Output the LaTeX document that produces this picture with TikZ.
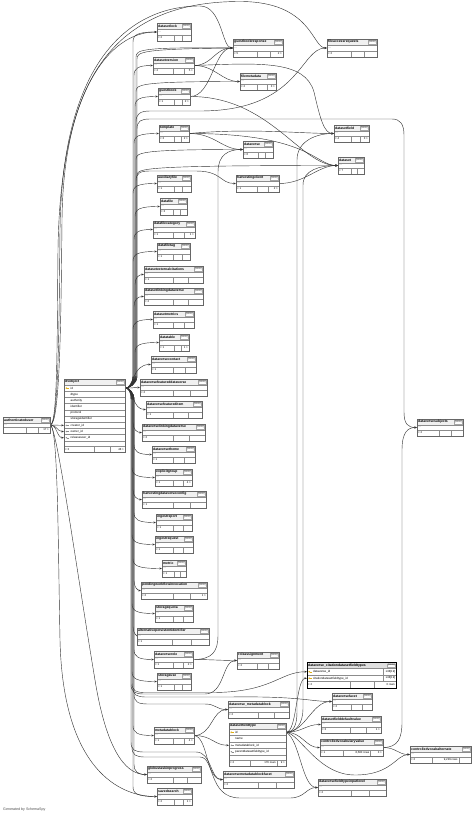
\documentclass[tikz,border=0pt]{standalone}
\usepackage{fontspec}
\setmainfont{Liberation Sans}
\usetikzlibrary{fit,arrows.meta}
\pgfdeclarelayer{bg}
\pgfsetlayers{bg,main}
\definecolor{keyc}{RGB}{225,175,20}
\tikzset{
 tblbg/.style={fill=white, inner sep=0pt, draw=none},
 hdrf/.style={fill=black!6},
 grid/.style={draw=black!45, line width=0.3pt},
 border/.style={draw=black!60, line width=0.5pt},
 lab/.style={font=\fontsize{3.4}{3.6}\selectfont\bfseries, inner sep=0pt, anchor=west},
 tag/.style={draw=black!35, fill=white, line width=0.2pt, text=black!70, font=\fontsize{2.5}{2.7}\selectfont, inner sep=0.45pt, anchor=east},
 ft/.style={font=\fontsize{2.8}{3}\selectfont, inner sep=0pt},
 rowt/.style={font=\fontsize{3}{3.2}\selectfont, inner sep=0pt, anchor=west},
 fk/.style={draw=black!80, line width=0.42pt, -{Stealth[length=2.4pt,width=2pt]}},
}
\def\tbfa{0.49}\def\tbfb{0.75}
\newcommand\tbgen[9]{%
 \node[tblbg, fit={(#2,#3) (#4,#5)}] (#1) {};
 \fill[hdrf] (#2,#3) rectangle (#4,{#3+6});
 \draw[grid] (#2,{#3+6}) -- (#4,{#3+6}) (#2,{#5-6}) -- (#4,{#5-6})
   ({#2+\tbfa*(#4-#2)},{#5-6}) -- ({#2+\tbfa*(#4-#2)},#5)
   ({#2+\tbfb*(#4-#2)},{#5-6}) -- ({#2+\tbfb*(#4-#2)},#5);
 \draw[border] (#2,#3) rectangle (#4,#5);
 \node[lab] (#1-l) at ({#2+1},{#3+3}) {#6};
 \node[tag] (#1-t) at ({#4-0.8},{#3+3}) {[table]};
 \node[ft, anchor=west] (#1-d) at ({#2+1.2},{(#3+#5)/2}) {...};
 \node[ft, anchor=west] (#1-a) at ({#2+1},{#5-3}) {#7};
 \node[ft, anchor=east] (#1-b) at ({#2+\tbfb*(#4-#2)-1},{#5-3}) {#8};
 \node[ft, anchor=east] (#1-c) at ({#4-1},{#5-3}) {#9};
}
\newcommand\mytb{\def\tbfa{0.49}\def\tbfb{0.75}\tbgen}
\newcommand\mytbr{\def\tbfa{0.37}\def\tbfb{0.80}\tbgen}
\newcommand\mypk[2]{\fill[keyc] (#1,#2) circle (0.85pt); \draw[keyc, line width=0.4pt] ({#1+0.5},#2) -- ({#1+2.2},#2) ({#1+1.8},#2) -- ({#1+1.8},{#2+0.9});}
\newcommand\myfk[2]{\fill[black!45] (#1,#2) circle (0.75pt); \draw[black!45, line width=0.35pt] ({#1+0.5},#2) -- ({#1+2.2},#2);}
\newcommand\trk[3]{%
 \pgfmathsetmacro\trksg{(#3<388)?1:-1}%
 \draw[fk] (dvr0.east) .. controls (129,388.1) and (#2,{388.1-4*\trksg}) .. (#2,{388.1-12*\trksg}) -- (#2,{#3+10*\trksg}) .. controls (#2,{#3+3*\trksg}) and ({#2+4},#3) .. (#1.west);
}
\newcommand\trkn[3]{\draw[fk] (dvr0.east) .. controls ({#2+1},388.1) and ({#2-1},#3) .. (#1.west);}
\begin{document}
\begin{tikzpicture}[x=1pt,y=-1pt]
\useasboundingbox (0,0) rectangle (474,816);
\begin{pgfonlayer}{bg}
\fill[white] (0,0) rectangle (474,816);
\end{pgfonlayer}

% ---------- tables ----------
\mytb{dsl}{157}{23}{191}{41}{datasetlock}{< 2}{}{}
\mytb{gbr}{233}{39}{283}{57}{guestbookresponse}{< 5}{}{2 >}
\mytb{far}{327}{39}{377}{57}{fileaccessrequests}{< 2}{}{}
\mytb{dsv}{153}{57}{194}{74}{datasetversion}{< 2}{}{5 >}
\mytb{fm}{240}{73}{276}{90}{filemetadata}{< 2}{}{3 >}
\mytb{gb}{158}{88}{190}{105}{guestbook}{< 1}{}{2 >}
\mytb{tpl}{159}{125}{189}{142}{template}{< 3}{}{2 >}
\mytb{dsf}{334}{125}{369}{142}{datasetfield}{< 4}{}{3 >}
\mytb{dv}{243}{141}{273}{158}{dataverse}{< 6}{}{}
\mytb{ds}{338}{157}{364}{174}{dataset}{< 7}{}{}
\mytb{hc}{236}{175}{279}{192}{harvestingclient}{< 1}{}{2 >}
\mytb{aux}{157}{175}{191}{192}{auxiliaryfile}{< 1}{}{}
\mytb{df}{160}{198}{187}{215}{datafile}{< 3}{}{}
\mytb{dfc}{153}{221}{195}{238}{datafilecategory}{< 1}{}{1 >}
\mytb{dftag}{157}{243}{190}{260}{datafiletag}{< 1}{}{}
\mytb{dec}{144}{266}{203}{283}{datasetexternalcitations}{< 1}{}{}
\mytb{dld}{144}{288}{203}{305}{datasetlinkingdataverse}{< 2}{}{}
\mytb{dsm}{153}{311}{194}{328}{datasetmetrics}{< 1}{}{}
\mytb{dtab}{159}{334}{189}{351}{datatable}{< 1}{}{1 >}
\mytb{dvc}{151}{356}{196}{373}{dataversecontact}{< 1}{}{}
\mytb{dvfd}{140}{379}{207}{396}{dataversefeatureddataverse}{< 2}{}{}
\mytb{dvfi}{146}{401}{202}{418}{dataversefeatureditem}{< 1}{}{}
\mytb{dvld}{142}{424}{205}{441}{dataverselinkingdataverse}{< 2}{}{}
\mytb{dvth}{152}{446}{195}{463}{dataversetheme}{< 1}{}{}
\mytb{eg}{155}{469}{192}{486}{explicitgroup}{< 1}{}{4 >}
\mytb{hdc}{142}{491}{206}{508}{harvestingdataverseconfig}{< 1}{}{}
\mytb{ir}{156}{514}{192}{531}{ingestreport}{< 1}{}{}
\mytb{irq}{155}{536}{193}{553}{ingestrequest}{< 1}{}{}
\mytb{met}{162}{560}{186}{577}{metric}{< 1}{}{}
\mytb{pwi}{141}{582}{207}{599}{pendingworkflowinvocation}{< 2}{}{1 >}
\mytb{sq}{155}{605}{193}{622}{storagequota}{< 1}{}{}
\mytb{api}{137}{628}{209}{645}{alternativepersistentidentifier}{< 1}{}{}
\mytb{dvr}{154}{651}{193}{668}{dataverserole}{< 1}{}{2 >}
\mytb{ra}{237}{652}{279}{669}{roleassignment}{< 2}{}{}
\mytb{su}{157}{673}{191}{690}{storageuse}{< 1}{}{}
\mytb{dvmb}{228}{701}{289}{718}{dataverse\_metadatablock}{< 2}{}{}
\mytb{mb}{154}{727}{194}{744}{metadatablock}{< 1}{}{4 >}
\mytb{gt}{147}{766}{201}{783}{globustaskinprogress}{< 2}{}{}
\mytb{dmbf}{223}{771}{294}{788}{dataversemetadatablockfacet}{< 2}{}{}
\mytb{ss}{157}{788}{192}{805}{savedsearch}{< 2}{}{1 >}
\mytb{dfacet}{332}{693}{372}{710}{dataversefacet}{< 2}{}{}
\mytb{dfdv}{321}{716}{381}{733}{datasetfielddefaultvalue}{< 3}{}{1 >}
\mytbr{cvv}{320}{739}{383}{756}{controlledvocabularyvalue}{< 1}{8,580 rows}{3 >}
\mytbr{cva}{410}{746}{471}{763}{controlledvocabalternate}{< 2}{9,229 rows}{}
\mytb{dftil}{318}{779}{386}{796}{dataversefieldtypeinputlevel}{< 2}{}{}
\mytb{dsub}{417}{419}{463}{436}{dataversesubjects}{< 2}{}{}
\mytb{au}{3}{417}{50}{433}{authenticateduser}{}{}{17 >}

% ---------- dvobject ----------
\node[tblbg, fit={(64,379) (125,452)}] (dvobject) {};
\fill[hdrf] (64,379) rectangle (125,385);
\draw[grid] (64,385) -- (125,385);
\node[lab] (dvobject-l) at (65,382) {dvobject};
\node[tag] (dvobject-t) at (124.2,382) {[table]};
\foreach \i/\nm in {0/id,1/dtype,2/authority,3/identifier,4/protocol,5/storageidentifier,6/creator\_id,7/owner\_id,8/releaseuser\_id}{
  \pgfmathsetmacro\ya{385+6.2*\i}
  \pgfmathsetmacro\yb{\ya+6.2}
  \pgfmathsetmacro\yc{\ya+3.1}
  \node[inner sep=0pt, fit={(64,\ya) (125,\yb)}] (dvr\i) {};
  \node[rowt] (dvt\i) at (70.5,\yc) {\nm};
  \draw[grid] (64,\yb) -- (125,\yb);
}
\mypk{66.3}{388.1}
\myfk{66.3}{425.3}
\myfk{66.3}{431.5}
\myfk{66.3}{437.7}
\draw[grid] (64,446.2) -- (125,446.2) (93.9,446.2) -- (93.9,452) (109.75,446.2) -- (109.75,452);
\node[ft, anchor=west] (dvobject-a) at (65,449.1) {< 3};
\node[ft, anchor=east] (dvobject-c) at (124,449.1) {48 >};
\draw[border] (64,379) rectangle (125,452);

% ---------- datasetfieldtype ----------
\node[tblbg, fit={(229,723) (286,766)}] (dftype) {};
\fill[hdrf] (229,723) rectangle (286,729);
\draw[grid] (229,729) -- (286,729);
\node[lab] (dftype-l) at (230,726) {datasetfieldtype};
\node[tag] (dftype-t) at (285.2,726) {[table]};
\foreach \i/\nm in {0/id,1/name,2/metadatablock\_id,3/parentdatasetfieldtype\_id}{
  \pgfmathsetmacro\ya{729+6.5*\i}
  \pgfmathsetmacro\yb{\ya+6.5}
  \pgfmathsetmacro\yc{\ya+3.25}
  \node[inner sep=0pt, fit={(229,\ya) (286,\yb)}] (ftr\i) {};
  \node[rowt] (ftt\i) at (235,\yc) {\nm};
  \draw[grid] (229,\yb) -- (286,\yb);
}
\mypk{231.3}{732.25}
\myfk{231.3}{745.25}
\myfk{231.3}{751.75}
\draw[grid] (229,760) -- (286,760) (250.1,760) -- (250.1,766) (276.9,760) -- (276.9,766);
\node[ft, anchor=west] (dftype-a) at (230,763) {< 2};
\node[ft, anchor=east] (dftype-b) at (275.9,763) {176 rows};
\node[ft, anchor=east] (dftype-c) at (285,763) {9 >};
\draw[border] (229,723) rectangle (286,766);

% ---------- dataverse_citationdatasetfieldtypes ----------
\node[tblbg, fit={(307,662) (396,688)}] (cit) {};
\fill[black!12] (307,662) rectangle (396,668.5);
\draw[grid] (307,668.5) -- (396,668.5);
\node[lab] (cit-l) at (308,665.25) {dataverse\_citationdatasetfieldtypes};
\node[tag] (cit-t) at (395.2,665.25) {[table]};
\node[inner sep=0pt, fit={(307,668.5) (396,675)}] (citr0) {};
\node[inner sep=0pt, fit={(307,675) (396,681.5)}] (citr1) {};
\node[rowt] (citt0) at (313,671.75) {dataverse\_id};
\node[rowt] (citt1) at (313,678.25) {citationdatasetfieldtype\_id};
\node[ft, anchor=east] (city0) at (395.3,671.75) {int8[19]};
\node[ft, anchor=east] (city1) at (395.3,678.25) {int8[19]};
\mypk{309.3}{671.75}
\mypk{309.3}{678.25}
\draw[grid] (307,675) -- (396,675) (307,681.5) -- (396,681.5) (383.5,668.5) -- (383.5,681.5)
  (350.6,681.5) -- (350.6,688) (373.75,681.5) -- (373.75,688);
\node[ft, anchor=west] (cit-a) at (308,684.75) {< 2};
\node[ft, anchor=east] (cit-c) at (395,684.75) {0 rows};
\draw[black, line width=0.9pt] (307,662) rectangle (396,688);

\node[font=\fontsize{3.6}{4}\selectfont, text=black!70, anchor=west, inner sep=0pt] (gen) at (3,810) {Generated by SchemaSpy};

% ---------- connectors ----------
\begin{pgfonlayer}{bg}
% dvobject trunk
\trk{dsl}{133}{32}
\trk{dsv}{134}{65.5}
\trk{gb}{135}{96.5}
\trk{tpl}{134}{133.5}
\trk{aux}{133}{183.5}
\trk{df}{135}{206.5}
\trk{dfc}{134}{229.5}
\trk{dftag}{133}{251.5}
\trk{dec}{135}{274.5}
\trk{dld}{134}{296.5}
\trk{dsm}{133}{319.5}
\trk{dtab}{135}{342.5}
\trkn{dvc}{133}{364.5}
\trkn{dvfd}{133}{387.5}
\trkn{dvfi}{133}{409.5}
\trk{dvld}{133}{432.5}
\trk{dvth}{134}{454.5}
\trk{eg}{132}{477.5}
\trk{hdc}{133}{499.5}
\trk{ir}{134}{522.5}
\trk{irq}{132}{544.5}
\trk{met}{133}{568.5}
\trk{pwi}{134}{590.5}
\trk{sq}{132}{613.5}
\trk{api}{133}{636.5}
\trk{dvr}{134}{659.5}
\trk{su}{132}{681.5}
\trk{mb}{133}{735.5}
\trk{gt}{134}{774.5}
\trk{ss}{133}{796.5}
\trk{gbr}{136}{47}
\trk{gbr}{137}{49}
\trk{fm}{136}{81.5}
\trk{dv}{136}{149.5}
\trk{ds}{137}{165.5}
\draw[fk] (dvr0.east) .. controls (129,388.1) and (136,384) .. (136,376) -- (136,181) .. controls (136,173) and (140,171) .. (150,171) -- (196,171) .. controls (222,171) and (220,183.5) .. (hc.west);
\draw[fk] (dvr0.east) .. controls (129,388.1) and (136,384) .. (136,376) -- (136,122) .. controls (136,114) and (140,111) .. (150,111) -- (200,111) .. controls (300,111) and (300,48) .. (far.west);
\draw[fk] (dvr0.east) .. controls (129,388.1) and (137,384) .. (137,376) -- (137,129) .. controls (137,121) and (141,119) .. (150,119) -- (392,119) .. controls (400,119) and (404,124) .. (404,135) -- (404,412) .. controls (404,424) and (408,427.5) .. (dsub.west);
\draw[fk] (dvr0.east) .. controls (129,388.1) and (131,392) .. (131,400) -- (131,684) .. controls (131,692) and (135,694) .. (144,694) -- (205,694) .. controls (225,694) and (222,660.5) .. (ra.west);
\draw[fk] (dvr0.east) .. controls (129,388.1) and (132,392) .. (132,400) -- (132,683) .. controls (132,691) and (136,692.5) .. (145,692.5) -- (212,692.5) .. controls (272,692.5) and (280,671.75) .. (citr0.west);
\draw[fk] (dvr0.east) .. controls (129,388.1) and (133,392) .. (133,400) -- (133,688) .. controls (133,695) and (137,697) .. (146,697) -- (230,697) .. controls (300,696) and (310,701.5) .. (dfacet.west);
\draw[fk] (dvr0.east) .. controls (129,388.1) and (134,392) .. (134,400) -- (134,694) .. controls (134,702) and (138,704) .. (148,704) -- (205,704) .. controls (216,704) and (216,709.5) .. (dvmb.west);
\draw[fk] (dvr0.east) .. controls (129,388.1) and (131,392) .. (131,400) -- (131,742) .. controls (131,750) and (135,752) .. (144,752) -- (196,752) .. controls (212,752) and (210,779.5) .. (dmbf.west);
\draw[fk] (dvr0.east) .. controls (129,388.1) and (132,392) .. (132,400) -- (132,747) .. controls (132,755) and (136,757) .. (145,757) -- (200,757) .. controls (215,757) and (208,798) .. (240,798) -- (290,798) .. controls (305,798) and (306,787.5) .. (dftil.west);
% authenticateduser
\draw[fk] (au.east) .. controls (57,425) and (57,425.3) .. (dvr6.west);
\draw[fk] (au.east) .. controls (57,425) and (57,431.5) .. (dvr7.west);
\draw[fk] (au.east) .. controls (57,425) and (57,437.7) .. (dvr8.west);
\draw[fk] (au.east) .. controls (58,425) and (57,330) .. (58,250) .. controls (60,90) and (110,32) .. (dsl.west);
\draw[fk] (au.east) .. controls (59,425) and (59,320) .. (60,230) .. controls (62,60) and (130,6) .. (200,6) .. controls (222,6) and (222,48) .. (gbr.west);
\draw[fk] (au.east) .. controls (60,425) and (61,320) .. (62,220) .. controls (64,40) and (150,1.5) .. (240,1.5) .. controls (312,1.5) and (312,48) .. (far.west);
\draw[fk] (au.east) .. controls (58,426) and (58,540) .. (60,640) .. controls (63,770) and (120,796.5) .. (ss.west);
\draw[fk] (au.east) .. controls (57,427) and (75,560) .. (95,680) .. controls (108,760) and (130,774.5) .. (gt.west);
% datasetversion
\draw[fk] (dsv.east) .. controls (212,65.5) and (215,48) .. (gbr.west);
\draw[fk] (dsv.east) .. controls (215,65.5) and (222,81.5) .. (fm.west);
\draw[fk] (dsv.east) .. controls (260,63) and (305,60) .. (314,92) .. controls (320,118) and (324,133.5) .. (dsf.west);
% guestbook
\draw[fk] (gb.east) .. controls (212,96.5) and (214,48) .. (gbr.west);
\draw[fk] (gb.east) .. controls (270,96.5) and (300,165.5) .. (ds.west);
% template
\draw[fk] (tpl.east) .. controls (250,128) and (300,133.5) .. (dsf.west);
\draw[fk] (tpl.east) .. controls (310,133.5) and (315,165.5) .. (ds.west);
\draw[fk] (tpl.east) .. controls (215,133.5) and (222,149.5) .. (dv.west);
% harvestingclient
\draw[fk] (hc.east) .. controls (305,183.5) and (318,165.5) .. (ds.west);
% dataverserole
\draw[fk] (dvr.east) .. controls (210,659.5) and (222,660.5) .. (ra.west);
\draw[fk] (dvr.east) .. controls (212,659.5) and (218,652) .. (218,635) -- (218,172) .. controls (218,155) and (228,149.5) .. (dv.west);
% metadatablock
\draw[fk] (mb.east) .. controls (212,735.5) and (212,709.5) .. (dvmb.west);
\draw[fk] (mb.east) .. controls (212,735.5) and (214,745.25) .. (ftr2.west);
\draw[fk] (mb.east) .. controls (208,737) and (206,779.5) .. (dmbf.west);
% datasetfieldtype
\draw[fk] (ftr0.east) .. controls (297,732.25) and (296,678.25) .. (citr1.west);
\draw[fk] (ftr0.east) .. controls (305,732.25) and (312,701.5) .. (dfacet.west);
\draw[fk] (ftr0.east) .. controls (302,732.25) and (306,724.5) .. (dfdv.west);
\draw[fk] (ftr0.east) .. controls (302,732.25) and (306,747.5) .. (cvv.west);
\draw[fk] (ftr0.east) .. controls (300,734) and (318,775) .. (355,775) .. controls (392,775) and (396,754.5) .. (cva.west);
\draw[fk] (ftr0.east) .. controls (300,740) and (302,787.5) .. (dftil.west);
\draw[fk] (ftr0.east) .. controls (293,732.25) and (297,726) .. (297,712) -- (297,160) .. controls (297,140) and (318,133.5) .. (dsf.west);
\draw[fk] (ftr0.east) .. controls (296,732.25) and (303,724) .. (303,708) -- (303,185) .. controls (303,170) and (320,165.5) .. (ds.west);
% controlledvocabularyvalue
\draw[fk] (cvv.east) .. controls (396,747.5) and (398,754.5) .. (cva.west);
\draw[fk] (cvv.east) .. controls (398,747.5) and (402,738) .. (402,722) -- (402,450) .. controls (402,432) and (408,427.5) .. (dsub.west);
\end{pgfonlayer}
\end{tikzpicture}
\end{document}
